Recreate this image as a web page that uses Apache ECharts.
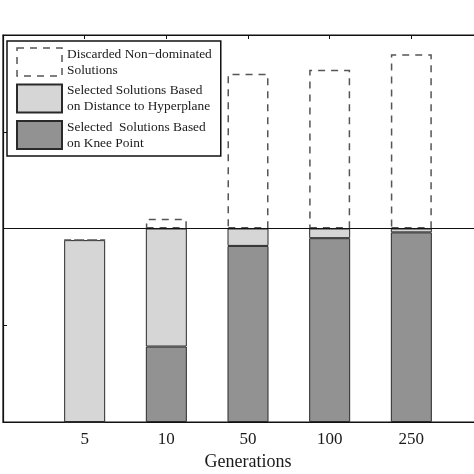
<!DOCTYPE html>
<html>
<head>
<meta charset="utf-8">
<script src="https://cdn.jsdelivr.net/npm/echarts@6/dist/echarts.min.js"></script>
<style>
  html, body { margin: 0; padding: 0; background: #fff; }
  #chart { width: 474px; height: 474px; }
</style>
</head>
<body>
<div id="chart"></div>
<script>
// values (population size = 100)
let generations = ['5', '10', '50', '100', '250'];
let kneePoint = [0, 39, 91, 95, 98];
let hyperplane = [94, 61, 9, 5, 2];
let discarded = [0, 5, 80, 82, 90];
let popSize = 100;

// blank slots left and right so the bars sit where the original puts them
function pad(arr) {
    return ['-'].concat(arr, ['-']);
}

let dom = document.getElementById("chart");
let myChart = echarts.init(dom);
let serif = 'Liberation Serif';

let names = ['Discarded Non\u2212dominated\nSolutions',
             'Selected Solutions Based\non Distance to Hyperplane',
             'Selected  Solutions Based\non Knee Point'];
let catLabels = pad(generations).map(function (d) { return d === '-' ? '' : d; });

let option = {
    animation: false,
    backgroundColor: '#fff',
    grid: {
        left: 3,
        top: 35,
        width: 490,
        height: 387,
        outerBoundsMode: 'none',
        containLabel: false,
        show: true,
        borderColor: '#111',
        borderWidth: 1.2
    },
    legend: {
        orient: 'vertical',
        left: 7,
        top: 41,
        padding: [5, 9, 5, 9],
        icon: 'rect',
        itemWidth: 45,
        itemHeight: 28,
        itemGap: 4.5,
        backgroundColor: '#fff',
        borderColor: '#111',
        borderWidth: 1.5,
        textStyle: {
            fontFamily: serif,
            fontSize: 13.4,
            lineHeight: 16,
            color: '#1a1a1a'
        },
        data: [
            { name: names[0], icon: 'rect',
              itemStyle: { color: 'rgba(255,255,255,0)', borderColor: '#555', borderWidth: 1.5, borderType: [7, 6] } },
            { name: names[1], icon: 'rect' },
            { name: names[2], icon: 'rect' }
        ]
    },
    xAxis: [
        {
            type: 'category',
            boundaryGap: false,
            data: catLabels,
            name: 'Generations',
            nameLocation: 'middle',
            nameGap: 29,
            nameTextStyle: { fontFamily: serif, fontSize: 18, color: '#1a1a1a' },
            axisLine: { lineStyle: { color: '#111', width: 1.2 } },
            axisTick: { show: false },
            axisLabel: { fontFamily: serif, fontSize: 17, color: '#1a1a1a', margin: 9 },
            splitLine: { show: false }
        },
        {
            type: 'category',
            position: 'top',
            boundaryGap: false,
            data: catLabels,
            axisLine: { lineStyle: { color: '#111', width: 1.2 } },
            axisTick: { inside: true, length: 4, lineStyle: { color: '#111' } },
            axisLabel: { show: false }
        }
    ],
    yAxis: [
        {
            type: 'value',
            min: 0,
            max: 200,
            interval: 50,
            axisLine: { show: true, lineStyle: { color: '#111', width: 1.2 } },
            axisTick: { show: true, inside: true, length: 4, lineStyle: { color: '#111' } },
            axisLabel: { show: false },
            splitLine: { show: false }
        }
    ],
    series: [
        {
            name: names[2],
            type: 'bar',
            stack: 'pop',
            barWidth: 41,
            data: pad(kneePoint),
            itemStyle: { color: '#929292', borderColor: '#2a2a2a', borderWidth: 1 }
        },
        {
            name: names[1],
            type: 'bar',
            stack: 'pop',
            barWidth: 41,
            data: pad(hyperplane),
            itemStyle: { color: '#d6d6d6', borderColor: '#2a2a2a', borderWidth: 1 },
            markLine: {
                silent: true,
                symbol: 'none',
                label: { show: false },
                lineStyle: { color: '#111', width: 1.2, type: 'solid' },
                data: [{ yAxis: popSize }]
            }
        },
        {
            name: names[0],
            type: 'bar',
            stack: 'pop',
            barWidth: 41,
            data: pad(discarded),
            itemStyle: {
                color: 'rgba(255,255,255,0)',
                borderColor: '#555',
                borderWidth: 1.5,
                borderType: [7, 6]
            }
        }
    ]
};

if (option && typeof option === "object") {
    myChart.setOption(option, true);
    window.addEventListener("resize", function () {
        myChart.resize();
    });
}
</script>
</body>
</html>
